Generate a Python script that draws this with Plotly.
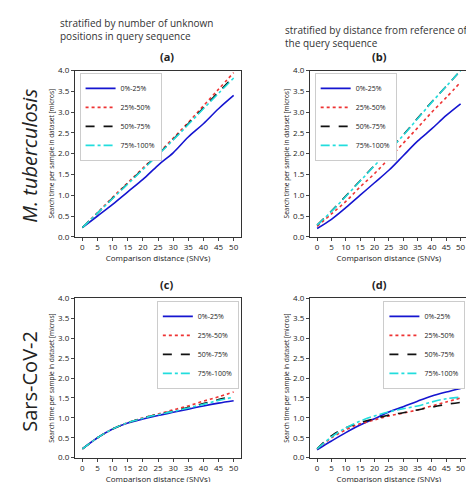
import plotly.graph_objects as go

x = [0, 5, 10, 15, 20, 25, 30, 35, 40, 45, 50]
names = ["0%-25%", "25%-50%", "50%-75%", "75%-100%"]
a = [
    [0.22, 0.50, 0.78, 1.08, 1.38, 1.72, 2.02, 2.40, 2.72, 3.08, 3.40],
    [0.22, 0.58, 0.95, 1.30, 1.65, 2.00, 2.37, 2.75, 3.15, 3.55, 3.95],
    [0.22, 0.57, 0.93, 1.28, 1.63, 1.98, 2.34, 2.72, 3.10, 3.48, 3.85],
    [0.22, 0.57, 0.92, 1.27, 1.62, 1.97, 2.33, 2.70, 3.08, 3.45, 3.82],
]
b = [
    [0.20, 0.42, 0.70, 1.00, 1.30, 1.60, 1.95, 2.30, 2.60, 2.92, 3.20],
    [0.25, 0.55, 0.85, 1.20, 1.52, 1.88, 2.25, 2.62, 3.00, 3.35, 3.72],
    [0.28, 0.62, 0.98, 1.35, 1.72, 2.08, 2.45, 2.85, 3.25, 3.62, 4.00],
    [0.28, 0.61, 0.97, 1.34, 1.71, 2.07, 2.44, 2.84, 3.24, 3.62, 4.00],
]
c = [
    [0.22, 0.50, 0.72, 0.87, 0.97, 1.06, 1.14, 1.22, 1.30, 1.37, 1.43],
    [0.22, 0.50, 0.72, 0.88, 1.00, 1.10, 1.20, 1.30, 1.42, 1.53, 1.65],
    [0.22, 0.50, 0.72, 0.88, 1.00, 1.09, 1.17, 1.26, 1.36, 1.46, 1.55],
    [0.22, 0.50, 0.72, 0.88, 0.99, 1.08, 1.16, 1.25, 1.34, 1.44, 1.52],
]
d = [
    [0.20, 0.42, 0.63, 0.82, 0.98, 1.15, 1.28, 1.42, 1.55, 1.65, 1.74],
    [0.22, 0.50, 0.70, 0.85, 0.95, 1.05, 1.12, 1.20, 1.30, 1.40, 1.50],
    [0.22, 0.55, 0.75, 0.88, 0.98, 1.07, 1.13, 1.20, 1.27, 1.34, 1.39],
    [0.22, 0.52, 0.75, 0.92, 1.05, 1.15, 1.23, 1.30, 1.40, 1.48, 1.52],
]
panels = [a, b, c, d]
labels = ["(a)", "(b)", "(c)", "(d)"]

colors = ["#1515d0", "#ee3333", "#111111", "#22dddd"]
dashes = ["solid", "dot", "dash", "dashdot"]

xd = [[0.141, 0.492], [0.637, 0.970], [0.141, 0.492], [0.637, 0.970]]
yd = [[0.527, 0.880], [0.527, 0.880], [0.058, 0.396], [0.058, 0.396]]

fig = go.Figure()
F = "Open Sans, DejaVu Sans, sans-serif"
for i, p in enumerate(panels):
    k = "" if i == 0 else str(i + 1)
    lg = "legend" + k
    for j, s in enumerate(p):
        fig.add_trace(go.Scatter(x=x, y=s, mode="lines", name=names[j],
                                 line=dict(color=colors[j], dash=dashes[j], width=1.6, shape="spline"),
                                 xaxis="x" + k, yaxis="y" + k, legend=lg))
    fig.layout["xaxis" + k] = dict(domain=xd[i], range=[-2.5, 52.5], tickvals=list(range(0, 51, 5)),
                                   anchor="y" + k, showgrid=False, zeroline=False, mirror=True,
                                   showline=True, linecolor="#333", ticks="outside", ticklen=3,
                                   tickfont=dict(size=8, color="#222"),
                                   title=dict(text="Comparison distance (SNVs)", font=dict(size=8, color="#222"), standoff=0))
    fig.layout["yaxis" + k] = dict(domain=yd[i], range=[0, 4], dtick=0.5, tickformat=".1f",
                                   anchor="x" + k, showgrid=False, zeroline=False, mirror=True,
                                   showline=True, linecolor="#333", ticks="outside", ticklen=3,
                                   tickfont=dict(size=8, color="#222"),
                                   title=dict(text="Search time per sample in dataset [micros]", font=dict(size=6.5, color="#222"), standoff=2))
    if i < 2:
        lx, ly, xa = xd[i][0] + 0.01, yd[i][1] - 0.005, "left"
    else:
        lx, ly, xa = xd[i][1] - 0.005, yd[i][1] - 0.005, "right"
    fig.layout[lg] = dict(x=lx, y=ly, xanchor=xa, yanchor="top", bgcolor="white",
                          bordercolor="#ccc", borderwidth=1, font=dict(size=7, color="#222"),
                          tracegroupgap=0, itemwidth=30)
    fig.add_annotation(text="<b>" + labels[i] + "</b>", x=(xd[i][0] + xd[i][1]) / 2, y=yd[i][1] + 0.01,
                       xref="paper", yref="paper", showarrow=False, yanchor="bottom",
                       font=dict(size=11, color="#222"))

fig.add_annotation(text="stratified by number of unknown<br>positions in query sequence", x=0.105, y=1.0,
                   xref="paper", yref="paper", xanchor="left", yanchor="top", align="left",
                   showarrow=False, font=dict(size=10, color="#333"))
fig.add_annotation(text="stratified by distance from reference of<br>the query sequence", x=0.58, y=0.985,
                   xref="paper", yref="paper", xanchor="left", yanchor="top", align="left",
                   showarrow=False, font=dict(size=10, color="#333"))
fig.add_annotation(text="<i>M. tuberculosis</i>", x=0.045, y=0.70, xref="paper", yref="paper",
                   xanchor="center", yanchor="middle",
                   textangle=-90, showarrow=False, font=dict(size=20, color="#222"))
fig.add_annotation(text="Sars-CoV-2", x=0.045, y=0.22, xref="paper", yref="paper",
                   xanchor="center", yanchor="middle",
                   textangle=-90, showarrow=False, font=dict(size=20, color="#222"))

fig.update_layout(width=474, height=482, margin=dict(l=0, r=0, t=0, b=0),
                  plot_bgcolor="white", paper_bgcolor="white", font=dict(family=F))
fig.write_html("out.html")
